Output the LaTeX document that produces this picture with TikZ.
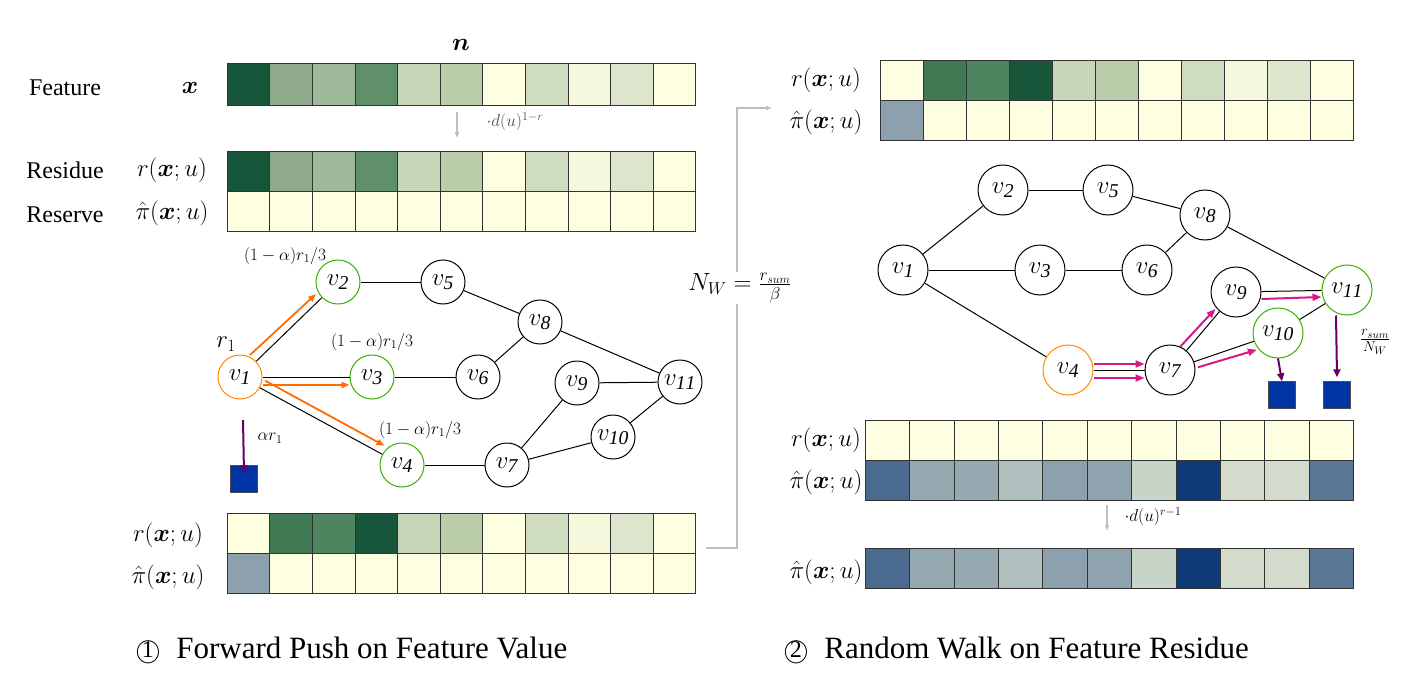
\documentclass[tikz,border=0pt]{standalone}
\usepackage{fontspec}
\setmainfont{Liberation Serif}
\usepackage{amsmath,bm}
\usetikzlibrary{arrows.meta}
\begin{document}
\begin{tikzpicture}[x=1pt,y=-1pt,
 cell/.style={draw=black!80,line width=0.5pt},
 vx/.style={circle,draw,line width=1pt,minimum size=44pt,inner sep=0pt,font=\fontsize{28}{30}\selectfont,fill=white},
 vxr/.style={vx,minimum size=50pt},
 org/.style={draw=orange!90!yellow},
 grn/.style={draw=green!55!black!70!lime},
 edge/.style={line width=1pt},
 oarr/.style={-{Triangle[length=8pt,width=6pt]},draw=orange!85!red,line width=1.8pt},
 marr/.style={-{Triangle[length=9pt,width=7pt]},draw=magenta!80!violet,line width=2pt},
 parr/.style={-{Triangle[length=8pt,width=7pt]},draw=violet!80!black,line width=2pt},
 garr/.style={-{Triangle[length=6pt,width=4pt]},draw=black!25,line width=1.5pt},
 bsq/.style={fill=blue!55!black!80!cyan,draw=black!70},
 lbl/.style={font=\fontsize{24}{28}\selectfont},
 sm/.style={font=\fontsize{17}{20}\selectfont}]
\useasboundingbox (0,0) rectangle (1404,695);
\newcommand{\myrow}[5]{% x0, y0, w, h, colors
 \foreach \c [count=\i from 0] in {#5} {\fill[\c] (#1+\i*#3,#2) rectangle ++(#3,#4);
  \draw[cell] (#1+\i*#3,#2) rectangle ++(#3,#4);}}
\definecolor{L}{HTML}{FEFEE0}
\definecolor{a1}{HTML}{17563A}\definecolor{a2}{HTML}{8FAA8A}\definecolor{a3}{HTML}{9DB89A}
\definecolor{a4}{HTML}{5F8F6B}\definecolor{a5}{HTML}{C7D6B8}\definecolor{a6}{HTML}{B9CDAB}
\definecolor{a7}{HTML}{D0DCC0}\definecolor{a8}{HTML}{F5F8DC}\definecolor{a9}{HTML}{DDE6CC}
\definecolor{b2}{HTML}{3F7A55}\definecolor{b3}{HTML}{4E8460}
\definecolor{p0}{HTML}{8CA0AE}
\definecolor{q1}{HTML}{4A6A90}\definecolor{q2}{HTML}{95A8B0}\definecolor{q3}{HTML}{97A9B0}
\definecolor{q4}{HTML}{B0C0BF}\definecolor{q5}{HTML}{8CA0AE}\definecolor{q6}{HTML}{8FA3AE}
\definecolor{q7}{HTML}{C8D4C8}\definecolor{q8}{HTML}{0E3A78}\definecolor{q9}{HTML}{D3DCCC}
\definecolor{q11}{HTML}{5A7896}
% left arrays
\myrow{227}{63}{42.6}{42}{a1,a2,a3,a4,a5,a6,L,a7,a8,a9,L}
\myrow{227}{151}{42.6}{40}{a1,a2,a3,a4,a5,a6,L,a7,a8,a9,L}
\myrow{227}{191}{42.6}{40}{L,L,L,L,L,L,L,L,L,L,L}
\myrow{227}{513}{42.6}{40}{L,b2,b3,a1,a5,a6,L,a7,a8,a9,L}
\myrow{227}{553}{42.6}{40}{p0,L,L,L,L,L,L,L,L,L,L}
% right arrays
\myrow{880}{60}{43}{40}{L,b2,b3,a1,a5,a6,L,a7,a8,a9,L}
\myrow{880}{100}{43}{40}{p0,L,L,L,L,L,L,L,L,L,L}
\myrow{865}{420}{44.4}{40}{L,L,L,L,L,L,L,L,L,L,L}
\myrow{865}{460}{44.4}{40}{q1,q2,q3,q4,q5,q6,q7,q8,q9,q9,q11}
\myrow{865}{548}{44.4}{40}{q1,q2,q3,q4,q5,q6,q7,q8,q9,q9,q11}
% labels
\node[lbl] (n) at (461,45) {$\bm{n}$};
\node[lbl] (tf) at (65,88) {Feature};
\node[lbl] (tx) at (190,88) {$\bm{x}$};
\node[lbl] (tr) at (65,170) {Residue};
\node[lbl] (trx) at (172,170) {$r(\bm{x};u)$};
\node[lbl] (ts) at (65,215) {Reserve};
\node[lbl] (tsx) at (172,213) {$\hat\pi(\bm{x};u)$};
\node[lbl] (l1) at (168,535) {$r(\bm{x};u)$};
\node[lbl] (l2) at (168,577) {$\hat\pi(\bm{x};u)$};
\node[lbl] (r1) at (826,80) {$r(\bm{x};u)$};
\node[lbl] (r2) at (826,122) {$\hat\pi(\bm{x};u)$};
\node[lbl] (r3) at (826,440) {$r(\bm{x};u)$};
\node[lbl] (r4) at (826,482) {$\hat\pi(\bm{x};u)$};
\node[lbl] (r5) at (826,572) {$\hat\pi(\bm{x};u)$};
% gray arrows
\coordinate (g1) at (457,112); \coordinate (g2) at (457,138);
\draw[garr] (g1) -- (g2);
\node[sm,text=black!70] (gl1) at (515,122) {$\cdot d(u)^{1-r}$};
\coordinate (g3) at (1107,505); \coordinate (g4) at (1107,531);
\draw[garr] (g3) -- (g4);
\node[sm] (gl2) at (1153,517) {$\cdot d(u)^{r-1}$};
\coordinate (c1) at (706,548); \coordinate (c2) at (772,108);
\draw[garr] (c1) -- (737,548) -- (737,108) -- (c2);
\node[lbl,fill=white,inner sep=1pt] (nw) at (740,288) {$N_W=\frac{r_{sum}}{\beta}$};
% left graph
\node[vx,org] (a1) at (240,377) {$v_{\mathit 1}$};
\node[vx,grn] (a2) at (338,282) {$v_{\mathit 2}$};
\node[vx] (a5) at (443,282) {$v_{\mathit 5}$};
\node[vx,grn] (a3) at (372,377) {$v_{\mathit 3}$};
\node[vx] (a6) at (478,377) {$v_{\mathit 6}$};
\node[vx] (a8) at (540,322) {$v_{\mathit 8}$};
\node[vx,grn] (a4) at (402,465) {$v_{\mathit 4}$};
\node[vx] (a7) at (507,465) {$v_{\mathit 7}$};
\node[vx] (a9) at (577,383) {$v_{\mathit 9}$};
\node[vx] (a10) at (613,437) {$v_{\mathit{10}}$};
\node[vx] (a11) at (680,382) {$v_{\mathit{11}}$};
\foreach \u/\v in {a1/a2,a1/a3,a1/a4,a2/a5,a5/a8,a3/a6,a6/a8,a8/a11,a4/a7,a7/a9,a7/a10,a9/a11,a10/a11}
 \draw[edge] (\u) -- (\v);
\draw[oarr] ([shift={(-6,-6)}]a1.45) -- ([shift={(-6,-4)}]a2.225);
\draw[oarr] ([yshift=-8]a1.east) -- ([yshift=-8]a3.west);
\draw[oarr] ([shift={(4,-4)}]a1.-20) -- ([shift={(2,-8)}]a4.150);
\node[sm] (o1) at (285,256) {$(1-\alpha)r_1/3$};
\node[sm] (o2) at (372,342) {$(1-\alpha)r_1/3$};
\node[sm] (o3) at (420,430) {$(1-\alpha)r_1/3$};
\node[lbl] (r1l) at (226,344) {$r_1$};
\coordinate (pa) at (243,420); \node[bsq,minimum size=27pt,inner sep=0pt] (sq1) at (244,479) {};
\draw[parr] (pa) -- ([yshift=-8]sq1.north);
\node[sm] (al) at (270,438) {$\alpha r_1$};
% right graph
\node[vxr] (b1) at (903,270) {$v_{\mathit 1}$};
\node[vxr] (b2) at (1003,190) {$v_{\mathit 2}$};
\node[vxr] (b5) at (1108,190) {$v_{\mathit 5}$};
\node[vxr] (b8) at (1205,215) {$v_{\mathit 8}$};
\node[vxr] (b3) at (1040,270) {$v_{\mathit 3}$};
\node[vxr] (b6) at (1147,270) {$v_{\mathit 6}$};
\node[vxr,org] (b4) at (1068,370) {$v_{\mathit 4}$};
\node[vxr] (b7) at (1170,370) {$v_{\mathit 7}$};
\node[vxr] (b9) at (1236,292) {$v_{\mathit 9}$};
\node[vxr,grn] (b10) at (1278,333) {$v_{\mathit{10}}$};
\node[vxr,grn] (b11) at (1347,290) {$v_{\mathit{11}}$};
\foreach \u/\v in {b1/b2,b1/b3,b1/b4,b2/b5,b5/b8,b8/b11,b3/b6,b6/b8,b4/b7,b7/b9,b7/b10,b9/b11,b10/b11}
 \draw[edge] (\u) -- (\v);
\draw[marr] ([yshift=-8]b4.east) -- ([yshift=-8]b7.west);
\draw[marr] ([yshift=6]b4.east) -- ([yshift=6]b7.west);
\draw[marr] ([shift={(-6,-4)}]b7.50) -- ([shift={(-6,-4)}]b9.235);
\draw[marr] ([shift={(4,6)}]b7.20) -- ([shift={(2,6)}]b10.205);
\draw[marr] ([yshift=-7]b9.east) -- ([yshift=-7]b11.west);
\node[bsq,minimum size=27pt,inner sep=0pt] (sq2) at (1282,395) {};
\node[bsq,minimum size=27pt,inner sep=0pt] (sq3) at (1337,395) {};
\draw[parr] (b10.south) -- (sq2.north);
\draw[parr] ([xshift=-11]b11.south) -- ([yshift=4]sq3.north);
\node[font=\fontsize{22}{24}\selectfont] (rs) at (1375,342) {$\frac{r_{sum}}{N_W}$};
% captions
\node[font=\fontsize{31}{36}\selectfont,anchor=west] (cap1) at (132,650) {\textcircled{\fontsize{24}{26}\selectfont 1}\hspace{16pt}Forward Push on Feature Value};
\node[font=\fontsize{31}{36}\selectfont,anchor=west] (cap2) at (780,650) {\textcircled{\fontsize{24}{26}\selectfont 2}\hspace{16pt}Random Walk on Feature Residue};
\end{tikzpicture}
\end{document}
